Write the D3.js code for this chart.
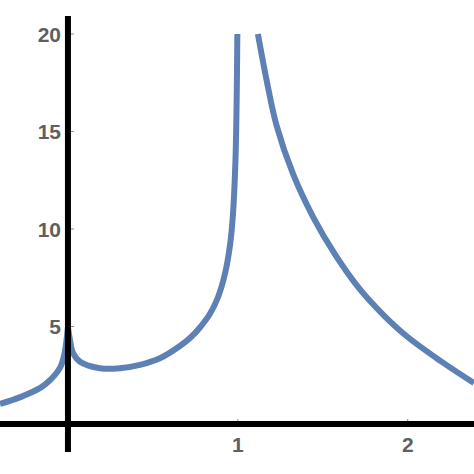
<!DOCTYPE html>
<html>
<head>
<meta charset="utf-8">
<script src="https://cdn.jsdelivr.net/npm/d3@7"></script>
<style>
  body { margin: 0; background: #fff; }
  svg { display: block; }
</style>
</head>
<body>
<svg id="chart"></svg>
<script>
// Constants
const svgWidth = 474;
const svgHeight = 474;
const curveColor = "#5E81B5";

// Data (three branches of the curve)
const leftX = [-0.40, -0.28, -0.163, -0.104, -0.045, -0.022, -0.0056, 0];
const leftY = [1.03, 1.38, 1.85, 2.26, 2.92, 3.54, 4.51, 4.97];

const midX = [0, 0.012, 0.03, 0.071, 0.188, 0.306, 0.424, 0.541, 0.659, 0.72, 0.777, 0.836, 0.883, 0.924, 0.954, 0.971, 0.986, 0.993, 0.997];
const midY = [4.97, 4.31, 3.64, 3.19, 2.86, 2.86, 3.03, 3.37, 4.0, 4.42, 4.95, 5.65, 6.5, 7.7, 9.18, 10.72, 13.54, 16.62, 20];

const rightX = [1.118, 1.170, 1.228, 1.326, 1.444, 1.572, 1.719, 1.856, 1.994, 2.190, 2.39];
const rightY = [20, 17.6, 15.3, 12.8, 10.6, 8.7, 6.9, 5.6, 4.5, 3.25, 2.1];

const xTicks = [1, 2];
const yTicks = [5, 10, 15, 20];

// Scales
const xScale = d3.scaleLinear().domain([-0.4, 2.39]).range([0, svgWidth]);
const yScale = d3.scaleLinear().domain([0, 20]).range([424, 34]);

const svg = d3.select("#chart")
  .attr("width", svgWidth)
  .attr("height", svgHeight);

// small tick marks
svg.append("g").selectAll("line")
  .data(xTicks)
  .join("line")
  .attr("x1", d => xScale(d))
  .attr("x2", d => xScale(d))
  .attr("y1", yScale(0))
  .attr("y2", yScale(0) - 5)
  .attr("stroke", "#888")
  .attr("stroke-width", 1);

svg.append("g").selectAll("line")
  .data(yTicks)
  .join("line")
  .attr("x1", xScale(0))
  .attr("x2", xScale(0) + 6)
  .attr("y1", d => yScale(d))
  .attr("y2", d => yScale(d))
  .attr("stroke", "#888")
  .attr("stroke-width", 1);

// Curve branches
const line = d3.line()
  .x(d => xScale(d[0]))
  .y(d => yScale(d[1]))
  .curve(d3.curveCatmullRom.alpha(0.5));

[[leftX, leftY], [midX, midY], [rightX, rightY]].forEach(([xs, ys]) => {
  svg.append("path")
    .datum(d3.zip(xs, ys))
    .attr("d", line)
    .attr("fill", "none")
    .attr("stroke", curveColor)
    .attr("stroke-width", 6)
    .attr("stroke-linecap", "butt");
});

// Axes (thick black lines)
svg.append("line")
  .attr("x1", 0)
  .attr("x2", svgWidth)
  .attr("y1", yScale(0))
  .attr("y2", yScale(0))
  .attr("stroke", "#000")
  .attr("stroke-width", 6);

svg.append("line")
  .attr("x1", xScale(0))
  .attr("x2", xScale(0))
  .attr("y1", 16)
  .attr("y2", 452)
  .attr("stroke", "#000")
  .attr("stroke-width", 6);

// Tick labels
svg.append("g").selectAll("text")
  .data(xTicks)
  .join("text")
  .attr("x", d => xScale(d))
  .attr("y", 452)
  .attr("text-anchor", "middle")
  .attr("font-family", "Liberation Sans, Arial, sans-serif")
  .attr("font-weight", "bold")
  .attr("font-size", 21)
  .attr("fill", "#5f5f5f")
  .text(d => d);

svg.append("g").selectAll("text")
  .data(yTicks)
  .join("text")
  .attr("x", 61)
  .attr("y", d => yScale(d) + 7.5)
  .attr("text-anchor", "end")
  .attr("font-family", "Liberation Sans, Arial, sans-serif")
  .attr("font-weight", "bold")
  .attr("font-size", 21)
  .attr("fill", "#5f5f5f")
  .text(d => d);
</script>
</body>
</html>
